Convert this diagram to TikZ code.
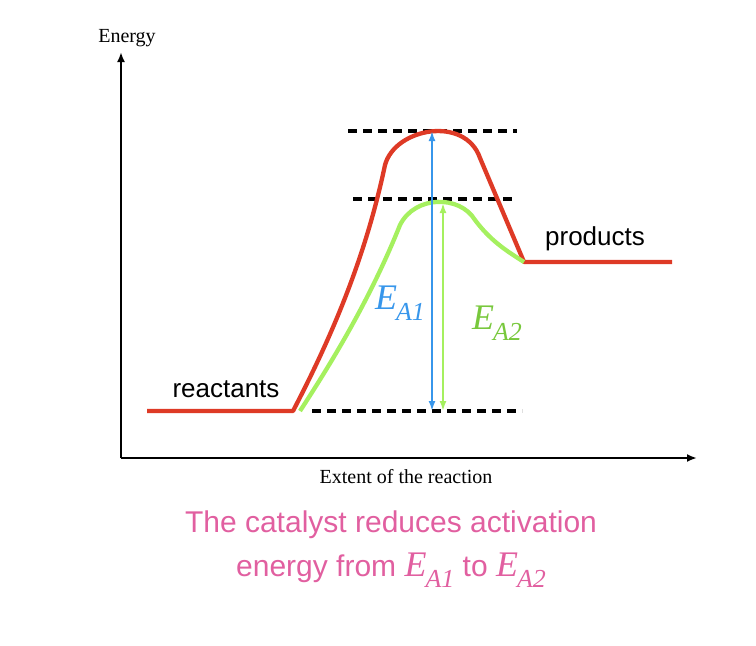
\documentclass[tikz,border=0pt]{standalone}
\usepackage{fontspec}
\newfontfamily\hel{Liberation Sans}
\newfontfamily\tms{Liberation Serif}
\usetikzlibrary{arrows.meta}
\definecolor{cred}{RGB}{222,58,38}
\definecolor{cgreen}{RGB}{165,240,95}
\definecolor{cblue}{RGB}{55,150,235}
\definecolor{cpink}{RGB}{225,95,160}
\definecolor{cglab}{RGB}{120,200,60}
\newcommand{\EA}[1]{{\tms\itshape E\kern-1pt\raisebox{-0.3em}{\fontsize{0.72em}{1em}\selectfont A#1}}}
\tikzset{dash line/.style={black,line width=3.5pt,dash pattern=on 9pt off 6pt},
curve/.style={line width=4.3pt,line join=round},
ax/.style={line width=2pt,-{Latex[length=10pt,width=8pt]}},
lbl/.style={font=\hel\fontsize{26}{28}\selectfont}}
\begin{document}
\begin{tikzpicture}[x=1pt,y=-1pt]
\useasboundingbox (0,0) rectangle (756,646);
\coordinate (o) at (121,458);
\coordinate (yt) at (121,52);
\coordinate (xt) at (697,458);
\draw[ax] (o) -- (yt);
\draw[ax] (o) -- (xt);
\node (ey) at (127,38) {\tms\fontsize{20}{22}\selectfont Energy};
\node (ex) at (406,477) {\tms\fontsize{20}{22}\selectfont Extent of the reaction};
\draw[dash line] (348,131) -- (517,131);
\draw[dash line] (353,199) -- (517,199);
\draw[dash line] (312,411) -- (522,411);
\draw[curve,cred] (147,411) -- (293,411) .. controls (330,340) and (365,260) .. (385,165)
  .. controls (395,128) and (465,115) .. (480,158) -- (524,262) -- (672,262);
\draw[curve,cgreen] (300,411) .. controls (330,365) and (370,300) .. (400,225)
  .. controls (415,195) and (460,195) .. (475,220) .. controls (490,240) and (505,250) .. (524,262);
\coordinate (bt) at (432,131); \coordinate (bb) at (432,411);
\coordinate (gt) at (443,203); \coordinate (gb) at (443,411);
\draw[cblue,line width=2.6pt,{Latex[length=10pt,width=7pt]}-{Latex[length=10pt,width=7pt]}] (bt) -- (bb);
\draw[cgreen,line width=2.6pt,{Latex[length=10pt,width=7pt]}-{Latex[length=10pt,width=7pt]}] (gt) -- (gb);
\node[cblue] (ea1) at (400,303) {\fontsize{36}{38}\selectfont\EA{1}};
\node[cglab] (ea2) at (497,323) {\fontsize{36}{38}\selectfont\EA{2}};
\node[lbl] (re) at (226,389) {reactants};
\node[lbl] (pr) at (595,239) {products};
\node[cpink,font=\hel\fontsize{30}{32}\selectfont] (c1) at (391,525) {The catalyst reduces activation};
\node[cpink,font=\hel\fontsize{30}{32}\selectfont] (c2) at (391,570) {energy from {\fontsize{36}{38}\selectfont\EA{1}} to {\fontsize{36}{38}\selectfont\EA{2}}};
\end{tikzpicture}
\end{document}
